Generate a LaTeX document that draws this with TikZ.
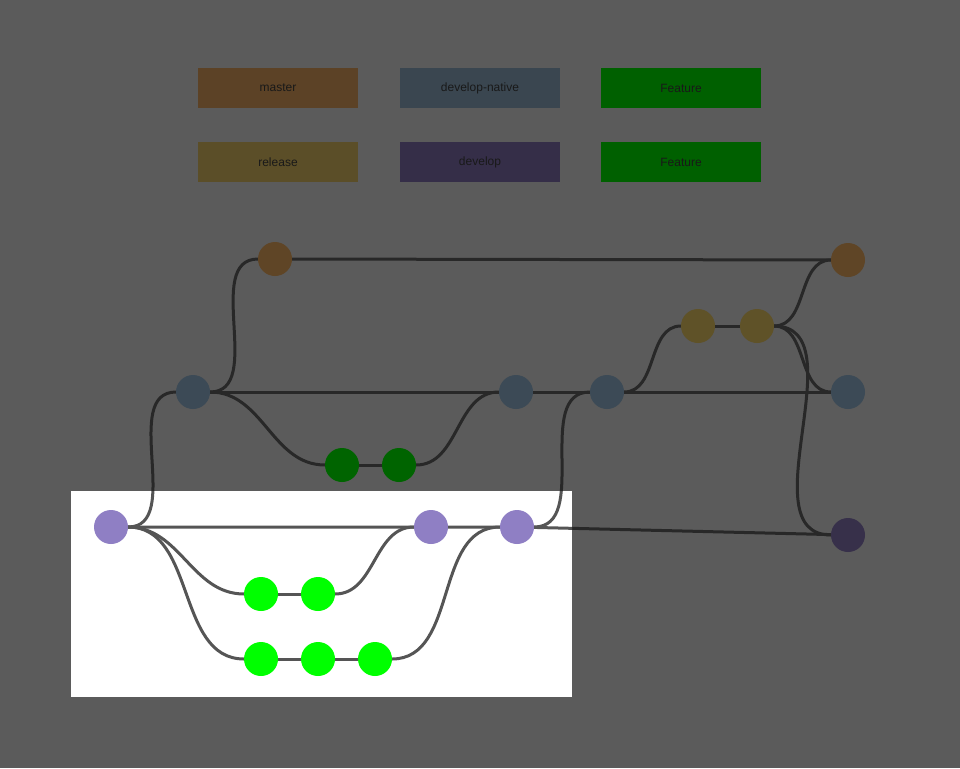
\documentclass[tikz,border=0pt]{standalone}
\usepackage{fontspec}
\setmainfont{Liberation Sans}
\usetikzlibrary{calc}
\begin{document}
\begin{tikzpicture}[x=1pt,y=-1pt,
  leg/.style={minimum width=160pt,minimum height=40pt,inner sep=0pt,font=\fontsize{12}{14}\selectfont,text=black!90},
  dot/.style={circle,minimum size=34pt,inner sep=0pt},
  e/.style={line width=3pt}]
\definecolor{bg}{HTML}{5B5B5B}
\useasboundingbox (0,0) rectangle (960,768);
\fill[bg] (0,0) rectangle (960,768);
\node[leg,fill={rgb,255:red,92;green,66;blue,38}] (l1) at (278,88) {master};
\node[leg,fill={rgb,255:red,58;green,70;blue,80}] (l2) at (480,88) {develop-native};
\node[leg,fill={rgb,255:red,0;green,96;blue,0}] (l3) at (681,88) {Feature};
\node[leg,fill={rgb,255:red,91;green,78;blue,40}] (l4) at (278,162) {release};
\node[leg,fill={rgb,255:red,53;green,46;blue,72}] (l5) at (480,162) {develop};
\node[leg,fill={rgb,255:red,0;green,96;blue,0}] (l6) at (681,162) {Feature};
\coordinate (p1) at (111,527); \coordinate (p2) at (431,527); \coordinate (p3) at (517,527);
\coordinate (g1) at (261,594); \coordinate (g2) at (318,594);
\coordinate (h1) at (261,659); \coordinate (h2) at (318,659); \coordinate (h3) at (375,659);
\coordinate (d1) at (193,392); \coordinate (d2) at (516,392); \coordinate (d3) at (607,392); \coordinate (d4) at (848,392);
\coordinate (m1) at (275,259); \coordinate (m2) at (848,260);
\coordinate (f1) at (342,465); \coordinate (f2) at (399,465);
\coordinate (r1) at (698,326); \coordinate (r2) at (757,326);
\coordinate (v1) at (848,535);
\newcommand\scurve[2]{($(#1)+(17,0)$) to[out=0,in=180] ($(#2)+(-17,0)$)}
\newcommand\alledges{%
\draw (p1) -- (p2) -- (p3) -- (v1);
\draw (m1) -- (m2); \draw (d1) -- (d2) -- (d3) -- (d4);
\draw (f1) -- (f2); \draw (r1) -- (r2); \draw (g1) -- (g2); \draw (h1) -- (h2) -- (h3);
\draw \scurve{p1}{d1}; \draw \scurve{d1}{m1}; \draw \scurve{d1}{f1}; \draw \scurve{f2}{d2};
\draw \scurve{d3}{r1}; \draw \scurve{r2}{m2}; \draw \scurve{r2}{d4}; \draw \scurve{r2}{v1};
\draw \scurve{p1}{g1}; \draw \scurve{g2}{p2}; \draw \scurve{p1}{h1}; \draw \scurve{h3}{p3}; \draw \scurve{p3}{d3};}
\begin{scope}[e,draw={rgb,255:red,40;green,40;blue,40}]
\alledges
\end{scope}
\fill[white] (71,491) rectangle (572,697);
\begin{scope}[e,draw={rgb,255:red,85;green,85;blue,85}]
\clip (71,491) rectangle (572,697);
\alledges
\end{scope}
\foreach \n/\c in {m1/5F4526,m2/5F4526,d1/3C4A56,d2/3C4A56,d3/3C4A56,d4/3C4A56,f1/006400,f2/006400,r1/5F5228,r2/5F5228,v1/37304A,p1/8F7FC4,p2/8F7FC4,p3/8F7FC4,g1/00FF00,g2/00FF00,h1/00FF00,h2/00FF00,h3/00FF00}
  {\definecolor{tmp}{HTML}{\c}\node[dot,fill=tmp] (n\n) at (\n) {};}
\end{tikzpicture}
\end{document}
